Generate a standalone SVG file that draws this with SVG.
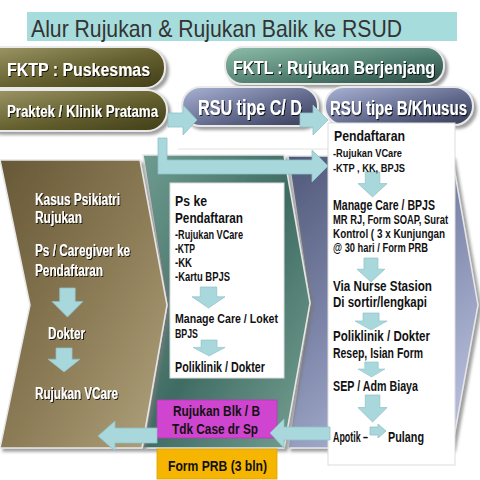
<svg xmlns="http://www.w3.org/2000/svg" width="480" height="480" viewBox="0 0 480 480">
<defs>
<style>
text{font-family:"Liberation Sans",Arial,sans-serif;font-weight:bold}
.pt{fill:#fff;filter:url(#ts)}
.wt{fill:#fff;filter:url(#ts)}
.bt{fill:#111}
.arr{fill:#a9d8dc;stroke:#8fc0c6;stroke-width:0.8}
.pill{stroke:#e9e9e9;stroke-width:2;filter:url(#sh)}
.chev{stroke:#e6e6e6;stroke-width:1.5;filter:url(#sh)}
.panel{fill:#fff;stroke:#dcdcdc;stroke-width:1}
</style>
<filter id="sh" x="-10%" y="-10%" width="130%" height="130%">
<feDropShadow dx="3" dy="3" stdDeviation="1.5" flood-color="#777" flood-opacity="0.7"/>
</filter>
<filter id="ts" x="-10%" y="-20%" width="130%" height="150%">
<feDropShadow dx="1" dy="1" stdDeviation="0.6" flood-color="#000" flood-opacity="0.8"/>
</filter>
<linearGradient id="gOl" x1="0" y1="0" x2="1" y2="1">
<stop offset="0" stop-color="#a09a6a"/><stop offset="0.55" stop-color="#65602f"/><stop offset="1" stop-color="#403d18"/>
</linearGradient>
<linearGradient id="gTe" x1="0" y1="0" x2="1" y2="1">
<stop offset="0" stop-color="#8fbdaa"/><stop offset="0.6" stop-color="#4c7a6c"/><stop offset="1" stop-color="#2c4a42"/>
</linearGradient>
<linearGradient id="gBl" x1="0" y1="0" x2="1" y2="1">
<stop offset="0" stop-color="#a9b3d6"/><stop offset="0.6" stop-color="#5f6789"/><stop offset="1" stop-color="#363b56"/>
</linearGradient>
<linearGradient id="cOl" x1="0" y1="0" x2="1" y2="1">
<stop offset="0" stop-color="#675836"/><stop offset="0.5" stop-color="#8a7a55"/><stop offset="1" stop-color="#b0a37c"/>
</linearGradient>
<linearGradient id="cTe" x1="0" y1="0" x2="1" y2="1">
<stop offset="0" stop-color="#6f9c90"/><stop offset="0.5" stop-color="#3f6c63"/><stop offset="1" stop-color="#78a294"/>
</linearGradient>
<linearGradient id="cBl" x1="0" y1="0" x2="0.6" y2="1">
<stop offset="0" stop-color="#4f5878"/><stop offset="0.5" stop-color="#7c85a8"/><stop offset="1" stop-color="#b2b9d8"/>
</linearGradient>
<path id="da" d="M7.5 0H22.5V14H30L15 30L0 14H7.5Z"/>
</defs>
<rect width="480" height="480" fill="#fff"/>

<g id="title">
<rect x="27" y="12" width="430" height="29" fill="#a6dcdc"/>
<text x="31" y="37" font-size="24" style="font-weight:normal" fill="#333" textLength="371" lengthAdjust="spacingAndGlyphs">Alur Rujukan &amp; Rujukan Balik ke RSUD</text>
</g>

<g id="chevrons">
<polygon class="chev" points="288,156 452,156 478,305 452,448 288,448 310,303" fill="url(#cBl)"/>
<polygon class="chev" points="143,155 284,155 310,303 284,448 143,448 167,305" fill="url(#cTe)"/>
<polygon class="chev" points="0,160 140,160 167,305 142,448 0,448 30,305" fill="url(#cOl)"/>
</g>

<line x1="178" y1="149" x2="330" y2="149" stroke="#e2e2e2" stroke-width="1"/>

<g id="fktl">
<rect class="pill" x="225" y="47" width="219" height="37" rx="18" fill="url(#gTe)"/>
<text class="pt" x="233" y="74" font-size="19" textLength="202" lengthAdjust="spacingAndGlyphs">FKTL : Rujukan Berjenjang</text>
</g>
<g id="rsu-cd">
<rect class="pill" x="182" y="87" width="136" height="39" rx="19" fill="url(#gBl)"/>
<text class="pt" x="198" y="115" font-size="22" textLength="104" lengthAdjust="spacingAndGlyphs">RSU tipe C/ D</text>
</g>
<g id="rsu-b">
<rect class="pill" x="325" y="87" width="148" height="38" rx="19" fill="url(#gBl)"/>
<text class="pt" x="0" y="0" transform="translate(330,115) scale(1,1.25)" font-size="16.5" textLength="137" lengthAdjust="spacingAndGlyphs">RSU tipe B/Khusus</text>
</g>
<g id="fktp">
<rect class="pill" x="-20" y="47" width="185" height="41" rx="20" fill="url(#gOl)"/>
<text class="pt" x="7" y="76" font-size="18" textLength="143" lengthAdjust="spacingAndGlyphs">FKTP : Puskesmas</text>
</g>
<g id="praktek">
<rect class="pill" x="-20" y="90" width="187" height="41" rx="20" fill="url(#gOl)"/>
<text class="pt" x="7" y="117" font-size="16" textLength="151" lengthAdjust="spacingAndGlyphs">Praktek / Klinik Pratama</text>
</g>

<g id="panel-cd">
<rect class="panel" x="170" y="183" width="114" height="195"/>
</g>
<g id="panel-b">
<rect class="panel" x="328" y="123" width="127" height="342"/>
</g>
<g id="rujukan-balik">
<rect x="157" y="400" width="120" height="38" fill="#cf45cf" stroke="#b93ab9" stroke-width="0.8"/>
<text class="bt" x="173" y="416" font-size="14" textLength="87" lengthAdjust="spacingAndGlyphs">Rujukan Blk / B</text>
<text class="bt" x="172" y="434" font-size="14" textLength="86" lengthAdjust="spacingAndGlyphs">Tdk Case dr Sp</text>
</g>
<g id="form-prb">
<rect x="157" y="449" width="120" height="30" fill="#f6b500" stroke="#e0a200" stroke-width="0.8"/>
<text class="bt" x="168" y="471" font-size="14" textLength="99" lengthAdjust="spacingAndGlyphs">Form PRB (3 bln)</text>
</g>

<g id="connectors">
<path class="arr" d="M168 113H183V105L197 120L183 135V127H168Z"/>
<path class="arr" d="M300 113H313V105L328 120L313 135V127H300Z"/>
<path class="arr" d="M158 138H167V160H312V150L328 166L312 182V174H158Z"/>
<path class="arr" d="M157 428H115V421L98 436L115 451V443H157Z"/>
<path class="arr" d="M330 427H284V419L270 433L284 448V440H330Z"/>
<use href="#da" class="arr" transform="translate(52,288) scale(1.03,0.97)"/>
<use href="#da" class="arr" transform="translate(48,348) scale(1.07,0.8)"/>
<use href="#da" class="arr" transform="translate(192,287) scale(1.1,0.7)"/>
<use href="#da" class="arr" transform="translate(193,340) scale(1.07,0.53)"/>
<use href="#da" class="arr" transform="translate(358,172) scale(0.97,0.83)"/>
<use href="#da" class="arr" transform="translate(357,258) scale(0.93,0.8)"/>
<use href="#da" class="arr" transform="translate(355,313) scale(1.07,0.57)"/>
<use href="#da" class="arr" transform="translate(358,362) scale(0.9,0.5)"/>
<use href="#da" class="arr" transform="translate(358,395) scale(0.97,0.9)"/>
<path class="arr" d="M370 427H378V424L386 431L378 438V435H370Z"/>
</g>

<g id="text-fktp">
<text class="wt" x="35" y="205" font-size="16" textLength="85" lengthAdjust="spacingAndGlyphs">Kasus Psikiatri</text>
<text class="wt" x="35" y="223" font-size="16" textLength="47" lengthAdjust="spacingAndGlyphs">Rujukan</text>
<text class="wt" x="35" y="256" font-size="16" textLength="95" lengthAdjust="spacingAndGlyphs">Ps / Caregiver ke</text>
<text class="wt" x="35" y="276" font-size="16" textLength="68" lengthAdjust="spacingAndGlyphs">Pendaftaran</text>
<text class="wt" x="48" y="339" font-size="16" textLength="37" lengthAdjust="spacingAndGlyphs">Dokter</text>
<text class="wt" x="35" y="399" font-size="16" textLength="83" lengthAdjust="spacingAndGlyphs">Rujukan VCare</text>
</g>

<g id="text-cd">
<text class="bt" x="175" y="206" font-size="15" textLength="32" lengthAdjust="spacingAndGlyphs">Ps ke</text>
<text class="bt" x="175" y="223" font-size="15" textLength="68" lengthAdjust="spacingAndGlyphs">Pendaftaran</text>
<text class="bt" x="175" y="239" font-size="12" textLength="68" lengthAdjust="spacingAndGlyphs">-Rujukan VCare</text>
<text class="bt" x="175" y="253" font-size="12" textLength="20" lengthAdjust="spacingAndGlyphs">-KTP</text>
<text class="bt" x="175" y="267" font-size="12" textLength="17" lengthAdjust="spacingAndGlyphs">-KK</text>
<text class="bt" x="175" y="281" font-size="12" textLength="55" lengthAdjust="spacingAndGlyphs">-Kartu BPJS</text>
<text class="bt" x="175" y="323" font-size="13" textLength="103" lengthAdjust="spacingAndGlyphs">Manage Care / Loket</text>
<text class="bt" x="175" y="338" font-size="13" textLength="23" lengthAdjust="spacingAndGlyphs">BPJS</text>
<text class="bt" x="175" y="372" font-size="14" textLength="90" lengthAdjust="spacingAndGlyphs">Poliklinik / Dokter</text>
</g>

<g id="text-b">
<text class="bt" x="334" y="141" font-size="15" textLength="71" lengthAdjust="spacingAndGlyphs">Pendaftaran</text>
<text class="bt" x="333" y="157" font-size="11.5" textLength="69" lengthAdjust="spacingAndGlyphs">-Rujukan VCare</text>
<text class="bt" x="333" y="172" font-size="11.5" textLength="72" lengthAdjust="spacingAndGlyphs">-KTP , KK, BPJS</text>
<text class="bt" x="333" y="210" font-size="14" textLength="102" lengthAdjust="spacingAndGlyphs">Manage Care / BPJS</text>
<text class="bt" x="333" y="224" font-size="12" textLength="115" lengthAdjust="spacingAndGlyphs">MR RJ, Form SOAP, Surat</text>
<text class="bt" x="333" y="238" font-size="12" textLength="112" lengthAdjust="spacingAndGlyphs">Kontrol ( 3 x Kunjungan</text>
<text class="bt" x="333" y="252" font-size="12" textLength="95" lengthAdjust="spacingAndGlyphs">@ 30 hari / Form PRB</text>
<text class="bt" x="333" y="291" font-size="14" textLength="99" lengthAdjust="spacingAndGlyphs">Via Nurse Stasion</text>
<text class="bt" x="333" y="307" font-size="14" textLength="94" lengthAdjust="spacingAndGlyphs">Di sortir/lengkapi</text>
<text class="bt" x="333" y="341" font-size="14" textLength="97" lengthAdjust="spacingAndGlyphs">Poliklinik / Dokter</text>
<text class="bt" x="333" y="358" font-size="14" textLength="90" lengthAdjust="spacingAndGlyphs">Resep, Isian Form</text>
<text class="bt" x="333" y="391" font-size="14" textLength="85" lengthAdjust="spacingAndGlyphs">SEP / Adm Biaya</text>
<text class="bt" x="333" y="442" font-size="14" textLength="35" lengthAdjust="spacingAndGlyphs">Apotik –</text>
<text class="bt" x="388" y="442" font-size="14" textLength="36" lengthAdjust="spacingAndGlyphs">Pulang</text>
</g>
</svg>
